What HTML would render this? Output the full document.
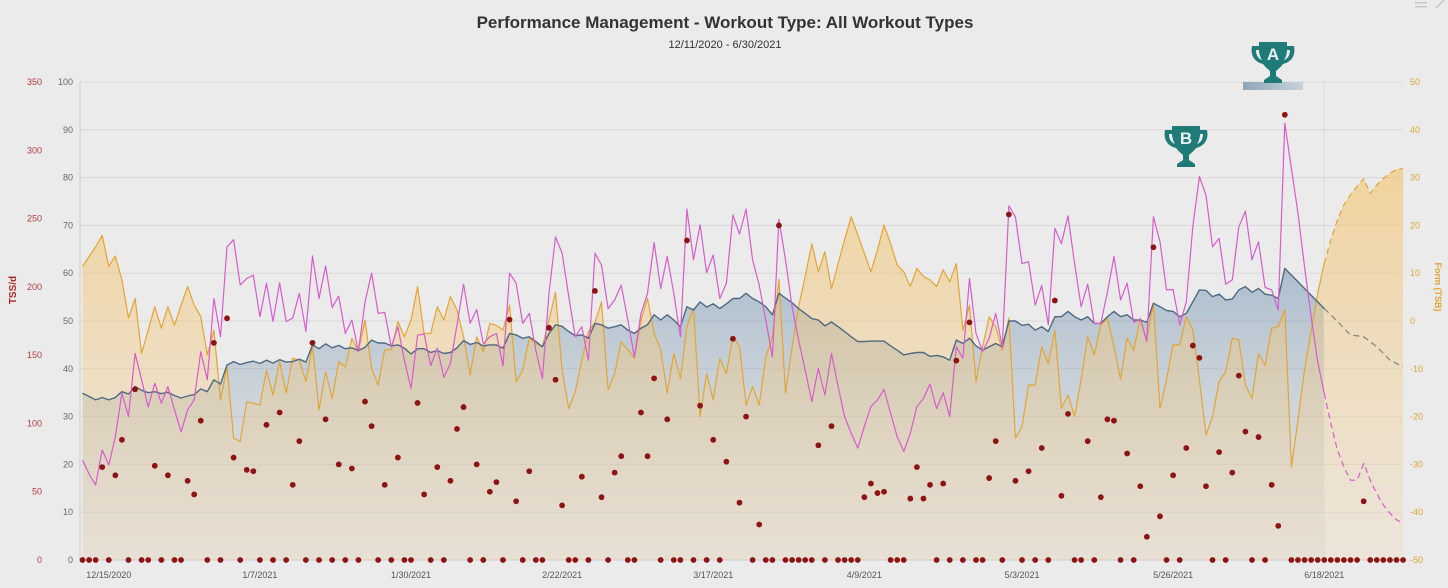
<!DOCTYPE html>
<html><head><meta charset="utf-8">
<style>
html,body{margin:0;padding:0;background:#ebebec;}
svg{display:block;font-family:"Liberation Sans",sans-serif;}
</style></head>
<body>
<svg id="chart" width="1448" height="588" viewBox="0 0 1448 588">
<defs>
<linearGradient id="gBlue" x1="0" y1="0" x2="0" y2="1">
<stop offset="0" stop-color="rgb(95,135,170)" stop-opacity="0.45"/>
<stop offset="1" stop-color="rgb(190,190,190)" stop-opacity="0.15"/>
</linearGradient>
<linearGradient id="gOrange" x1="0" y1="0" x2="0" y2="1">
<stop offset="0" stop-color="rgb(245,190,90)" stop-opacity="0.55"/>
<stop offset="1" stop-color="rgb(240,210,160)" stop-opacity="0.25"/>
</linearGradient>
<linearGradient id="gBand" x1="0" y1="0" x2="1" y2="0">
<stop offset="0" stop-color="#8fa6b8"/><stop offset="1" stop-color="#c9d3da"/>
</linearGradient>
</defs>
<rect x="0" y="0" width="1448" height="588" fill="#ebebec"/>
<text x="725" y="28" text-anchor="middle" font-size="17" font-weight="bold" fill="#333">Performance Management - Workout Type: All Workout Types</text>
<text x="725" y="48" text-anchor="middle" font-size="11" fill="#333">12/11/2020 - 6/30/2021</text>
<g fill="#c8c8c8"><rect x="1415" y="2" width="12" height="1.5"/><rect x="1415" y="6" width="12" height="1.5"/></g>
<g><line x1="1436" y1="8" x2="1444" y2="0" stroke="#c8c8c8" stroke-width="1.5"/></g>
<g id="grid"></g>
<g id="areas"></g>
<g id="lines"></g>
<g id="dots"></g>
<g id="axes"></g>
<g id="trophies"></g>
</svg>
<script>
// ---- data (daily, 12/11/2020 .. 6/30/2021) ----
const tickLabels = ["12/15/2020","1/7/2021","1/30/2021","2/22/2021","3/17/2021","4/9/2021","5/3/2021","5/26/2021","6/18/2021"];
const tickDays = [4,27,50,73,96,119,143,166,189];
const todayIndex = 189;
const tss = [0,0,0,68,0,62,88,0,125,0, 0,69,0,62,0,0,58,48,102,0, 159,0,177,75,0,66,65,0,99,0,
 108,0,55,87,0,159,0,103,0,70, 0,67,0,116,98,0,55,0,75,0, 0,115,48,0,68,0,58,96,112,0,
 70,0,50,57,0,176,43,0,65,0, 0,170,132,40,0,0,61,0,197,46, 0,64,76,0,0,108,76,133,0,103,
 0,0,234,0,113,0,88,0,72,162, 42,105,0,26,0,0,245,0,0,0, 0,0,84,0,98,0,0,0,0,46,
 56,49,50,0,0,0,45,68,45,55, 0,56,0,146,0,174,0,0,60,87, 0,253,58,0,65,0,82,0,190,47,
 107,0,0,87,0,46,103,102,0,78, 0,54,17,229,32,0,62,0,82,157, 148,54,0,79,0,64,135,94,0,90,
 0,55,25,326,0,0,0,0,0,0, 0,0,0,0,0,43,0,0,0,0, 0,0];
const atl = [20.9,18,15.7,23,19.9,25.8,34.9,30,43.2,37.7, 32,37,32.8,36.3,31.4,26.8,31.4,33.5,43.6,37.7,
 54.7,46.7,65.5,67,57.5,58.9,59.6,50.9,57.9,49.9, 58,49.9,50.6,55.8,47.8,63.6,54.7,61.5,52.8,55.2,
 47.4,50.2,43.6,54,60,51.6,51.8,44.6,48.8,41.8, 35.9,47,47.3,40.7,44.3,38.2,41.1,49.2,57.7,49.5,
 52.4,45.2,46.7,47.4,40.6,60,57.9,49.5,51.6,43.9, 38,55.8,67.6,64.2,55.2,46.7,48.8,41.8,64.2,61.7,
 52.6,54.4,57.5,50.2,42.5,51.6,55.8,66.4,56.8,63.5, 55.8,46.7,73.4,62.8,70.1,60.1,63.8,54.7,57.9,72.2,
 68.2,73.4,62.8,57.5,50.2,42.5,71.3,62.8,53,46, 39.7,33.1,40.1,34.5,43.2,36.3,30,26.5,23.4,27.9,
 32.1,33.5,35.7,30.7,25.8,22.7,26.5,32.1,33.8,36.8, 31.7,35,30,44.6,42.2,58.9,47.4,43.6,46.4,51.6,
 44.6,74.1,71.8,62,62.4,53.3,57.4,49.2,69.4,66.2, 72,62,53,57.7,49.5,49.5,56,63.5,54.4,57.9,
 49.7,50.4,45.7,71.8,66.6,56.5,56.6,49.2,54,69.7, 80.2,76.3,65.5,67.3,57.7,58.6,69.7,73,62.8,66.6,
 57,56.5,52.3,91.4,81.9,72.5,61.4,50.9,41.5,34.9, 28.6,23,19.5,16.7,16.7,20.2,16.7,13.9,11.5,9.8, 8.4,7.7];
const ctl = [34.9,34.2,33.5,34,33.5,34,35.2,34.7,36.3,35.5, 35,35.2,34.8,35.1,34.4,33.9,34.3,34.6,35.8,35.2,
 37.7,36.8,40.8,41.5,40.9,41.3,41.6,41.1,41.8,41.2, 41.9,41.4,41.5,42,41.4,45,44.2,45.2,44.4,44.9,
 44.2,44.4,43.8,44.5,46,45.4,45.4,44.8,45,44.3, 43.1,44.2,44.2,43.4,43.8,43.2,43.4,44.4,45.9,45.1,
 45.5,44.8,45,45,44.3,47.4,47.1,46.4,46.7,45.7, 44.6,47.4,49.2,48.9,47.8,46.9,47.1,46.4,49.5,49.2,
 48.5,48.8,49.2,48.1,47.4,48.5,49.2,51.3,50.2,51.3, 50.2,48.8,53,52.3,54,52.9,53.6,52.6,53.6,54.7,
 54.7,55.8,54.7,54,53,51.3,55.8,54.8,53.8,52.6, 51.6,50.5,50.2,49,49.8,48.8,47.8,46.7,45.7,45.7,
 45.8,45.8,45.8,44.8,43.9,42.9,43.2,43.4,43.4,42.6, 42.8,42.5,41.8,46,45.3,46.4,44.8,43.9,44.6,45.3,
 44.6,50,50,49.1,49.3,48.1,48.8,47.8,50.9,50.9, 52,50.9,50.2,50.9,49.5,49.5,50.9,52,50.9,51.3,
 50.2,50.2,49.7,53.7,53,52.2,52,50.9,51.6,54, 56.5,56.4,55.1,55.6,54.4,54.6,56.5,57.2,56,56.8,
 55.6,55.4,54.7,61,59.6,58.2,56.8,55.4,54,52.6, 51.3,49.9,48.5,47.1,46.9,46.7,45.7,44.6,43.2,41.8, 41.1,40.4];
const tsb = [11.4,13.5,15.5,17.9,11.4,13.6,8.6,0.6,4.7,-6.8, -1.9,3,-1.5,3,-0.9,3.3,7.2,3.3,0.9,-7.1,
 -1.9,-16.5,-9.6,-24.5,-25.2,-16.9,-17.2,-17.6,-10.3,-15.5, -8.5,-15.1,-7.8,-8.2,-12.7,-5,-18.6,-10.6,-16.2,-8.5,
 -9.6,-3.6,-6.4,0.2,-9.9,-13.4,-6,-6,-0.1,-3.3, 0.2,7.2,-2.6,-2.6,3,0.2,5.1,2.3,-3.3,-11.3,
 -3.3,-6.4,-0.5,-0.9,-1.9,3.3,-12.7,-10.3,-3.6,-4.7, -5.4,0.2,6,-10.3,-18.3,-14.8,-8.2,-2.2,-0.3,4,
 -14.4,-11,-4.3,-6,-7.8,0.2,4.7,-2.6,-6,-15.1, -6.8,-12,-1.2,2.6,-20,-11,-16.5,-7.8,-11,-3.3,
 -5.4,-17.6,-13.7,-17.6,-7.5,-3.3,8.7,-15.1,-5.4,3, 9.3,16.2,10.3,14.5,6.8,12,17,21.8,18,14.2,
 10.3,14.9,20.1,16.2,11.7,10.3,7.2,11,9.3,8.6, 7.2,10.7,8.2,12,-1.9,3.3,-12.7,-5.4,0.9,-1.2,
 -6.1,0.6,-24.5,-22.1,-13.4,-13.4,-5.4,-8.9,-1.9,-18.3, -15.5,-20,-12.3,-3.3,-7.1,-0.8,0.6,-5.4,-12.2,-3.6,
 -6.1,0.6,-4,3.7,-18.3,-12.3,-5,-5,0.9,-1.9, -12.3,-23.9,-20,-12.7,-10.6,-3.6,-4,-13.4,-16.2,-6.8,
 -9.3,-1.5,-1.2,2.4,-30.5,-20.7,-10.3,-2.2,5.8,12, 17,21.1,24.3,26.4,28.2,29.8,26.7,28.5,29.8,30.9, 31.7,31.9];
const leftTicks = [0,10,20,30,40,50,60,70,80,90,100];
const tssTicks = [0,50,100,150,200,250,300,350];
const tsbTicks = [-50,-40,-30,-20,-10,0,10,20,30,40,50];

// ---- scales ----
const X0 = 82.5, DX = 6.57, Y0 = 560, PX = 4.78;
function xs(d){ return X0 + d*DX; }
function yv(v){ return Y0 - v*PX; }
function yTss(t){ return yv(t/3.5); }
function yTsb(b){ return yv(b+50); }

const NS = "http://www.w3.org/2000/svg";
function mk(tag, attrs, parent){
  const e = document.createElementNS(NS, tag);
  for (const k in attrs) e.setAttribute(k, attrs[k]);
  parent.appendChild(e); return e;
}
function pts(arr, f, a, b){
  const p = [];
  for (let i=a;i<=b;i++) p.push(xs(i).toFixed(1)+","+f(arr[i]).toFixed(1));
  return p;
}
const gGrid = document.getElementById("grid");
const gAreas = document.getElementById("areas");
const gLines = document.getElementById("lines");
const gDots = document.getElementById("dots");
const gAxes = document.getElementById("axes");
const gTro = document.getElementById("trophies");

// grid
leftTicks.forEach(v=>{
  if (v===0) return;
  const l = mk("line",{x1:80,x2:1403,y1:yv(v),y2:yv(v),stroke:"#d9d9d9","stroke-width":1},gGrid);
  
  
});
const axL = mk("line",{x1:80,x2:80,y1:82,y2:560,stroke:"#cfcfcf"},gGrid);


const axB = mk("line",{x1:80,x2:1403,y1:560,y2:560,stroke:"#cfcfcf"},gGrid);



// areas
const last = tsb.length-1;
const ctlArea = mk("path",{d:"M"+xs(0)+","+Y0+" L"+pts(ctl,yv,0,todayIndex).join(" L")+" L"+xs(todayIndex)+","+Y0+" Z",fill:"url(#gBlue)"},gAreas);


const tsbArea = mk("path",{d:"M"+xs(0)+","+Y0+" L"+pts(tsb,yTsb,0,last).join(" L")+" L"+xs(last)+","+Y0+" Z",fill:"url(#gOrange)"},gAreas);


const todayLine = mk("line",{x1:xs(todayIndex),x2:xs(todayIndex),y1:82,y2:560,stroke:"#e2dccf","stroke-width":1},gAreas);



// lines
function line(arr,f,a,b,color,dash,name,w){
  const p = mk("path",{d:"M"+pts(arr,f,a,b).join(" L"),fill:"none",stroke:color,"stroke-width":w,"stroke-dasharray":dash||"none","stroke-linejoin":"round"},gLines);
  
  
}
line(tsb,yTsb,0,todayIndex,"#e3a535","", "form-tsb-line",1.2);
line(tsb,yTsb,todayIndex,last,"#e3a535","6,4","form-tsb-projection",1.2);
line(ctl,yv,0,todayIndex,"#4e6a80","", "fitness-ctl-line",1.4);
line(ctl,yv,todayIndex,last,"#8a8a84","6,4","fitness-ctl-projection",1.3);
line(atl,yv,0,todayIndex,"#d85ccb","", "fatigue-atl-line",1.2);
line(atl,yv,todayIndex,last,"#d85ccb","6,4","fatigue-atl-projection",1.2);

// dots
tss.forEach((t,i)=>{
  const c = mk("circle",{cx:xs(i),cy:yTss(t),r:2.9,fill:"#8e1414"},gDots);
  
  
});

// axes labels
leftTicks.forEach(v=>{
  const t = mk("text",{x:73,y:yv(v)+3,"text-anchor":"end","font-size":9,fill:"#666"},gAxes);
  t.textContent = v;
  
  
});
tssTicks.forEach(v=>{
  const t = mk("text",{x:42,y:yTss(v)+3,"text-anchor":"end","font-size":9,fill:"#b03c3c"},gAxes);
  t.textContent = v;
  
  
});
tsbTicks.forEach(v=>{
  const t = mk("text",{x:1410,y:yTsb(v)+3,"font-size":9,fill:"#e0a530"},gAxes);
  t.textContent = v;
  
  
});
tickDays.forEach((d,i)=>{
  const t = mk("text",{x:xs(d),y:578,"text-anchor":"middle","font-size":9,fill:"#555"},gAxes);
  t.textContent = tickLabels[i];
  
  
});
const t1 = mk("text",{x:16,y:290,"text-anchor":"middle","font-size":10,"font-weight":"bold",fill:"#a82828",transform:"rotate(-90 16 290)"},gAxes);
t1.textContent = "TSS/d";


const t2 = mk("text",{x:1435,y:287,"text-anchor":"middle","font-size":9,"font-weight":"bold",fill:"#e0a530",transform:"rotate(90 1435 287)"},gAxes);
t2.textContent = "Form (TSB)";



// trophies
function trophy(cx, cy, letter, name){
  const g = mk("g",{transform:"translate("+cx+","+cy+")"},gTro);
  
  
  mk("path",{d:"M-14,-20 L14,-20 L14,-16 L21,-16 C23,-6 18,0 10,2 C7,6 4,8 3,9 L3,14 L9,18 L9,21 L-9,21 L-9,18 L-3,14 L-3,9 C-4,8 -7,6 -10,2 C-18,0 -23,-6 -21,-16 L-14,-16 Z M-17,-12 C-17,-6 -14,-3 -11,-2 C-13,-5 -14,-9 -14,-12 Z M17,-12 C17,-6 14,-3 11,-2 C13,-5 14,-9 14,-12 Z",fill:"#1f7b78","fill-rule":"evenodd"},g);
  const tx = mk("text",{x:0,y:-2,"text-anchor":"middle","font-size":17,"font-weight":"bold",fill:"#e8f2f1"},g);
  tx.textContent = letter;
}
const band = mk("rect",{x:1243,y:82,width:60,height:8,fill:"url(#gBand)"},gTro);


trophy(1273,62,"A","trophy-a-race");
trophy(1186,146,"B","trophy-b-race");
</script>
</body></html>
